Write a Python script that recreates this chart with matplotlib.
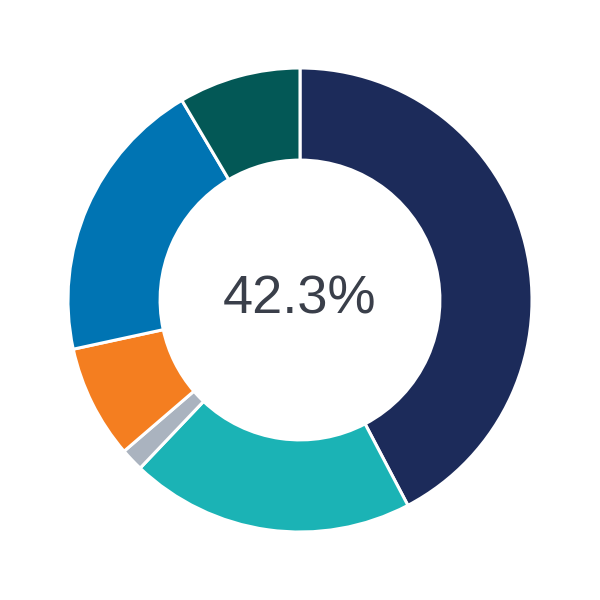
import matplotlib.pyplot as plt

labels = ["Navy", "Teal", "Gray", "Orange", "Blue", "Dark green"]
shares = [42.3, 19.8, 1.6, 7.9, 19.9, 8.5]
colors = ["#1c2b5a", "#1bb3b5", "#aab3bf", "#f47e20", "#0074b3", "#035856"]
center_label = "42.3%"

fig = plt.figure(figsize=(6, 6), dpi=100)
ax = fig.add_axes([0, 0, 1, 1])

ax.pie(shares, colors=colors, startangle=90, counterclock=False,
       radius=1.0, wedgeprops=dict(width=0.397, edgecolor="white", linewidth=2.2))

ax.text(0, 0, center_label, ha="center", va="center", fontsize=39,
        color="#3a3f4a", family="Liberation Sans")

ax.set_xlim(-1.293, 1.293)
ax.set_ylim(-1.293, 1.293)
ax.set_aspect("equal")
ax.axis("off")

fig.savefig("out.png", dpi=100, facecolor="white")
